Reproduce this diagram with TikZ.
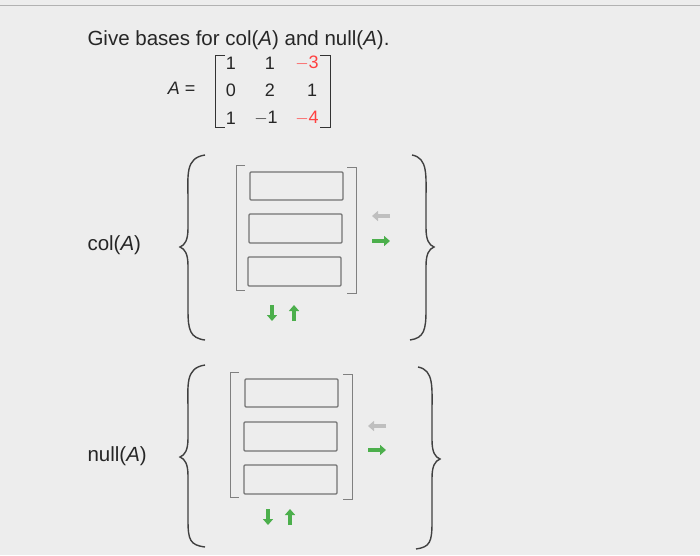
\documentclass[tikz,border=0pt]{standalone}
\usepackage{fontspec}
\setmainfont{Liberation Sans}
\usetikzlibrary{arrows.meta}
\begin{document}
\begin{tikzpicture}[x=1pt,y=-1pt,
  box/.style={draw=black!55,line width=1.2pt,rounded corners=1pt},
  brk/.style={draw=black!50,line width=1pt},
  brace/.style={draw=black!75,line width=1.4pt},
  garrow/.style={-{Triangle[length=6pt,width=10pt]},line width=4.5pt,draw=green!55!black!70},
  grarrow/.style={-{Triangle[length=6pt,width=10pt]},line width=4.5pt,draw=black!25},
  txt/.style={font=\fontsize{20.5}{24}\selectfont,text=black!85},
  mtx/.style={font=\fontsize{18}{21}\selectfont,text=black!85}]
\fill[black!7] (0,0) rectangle (700,555);
\useasboundingbox (0,0) rectangle (700,555);
\draw[black!30,line width=1pt] (0,5) -- (700,5);
\node[txt,anchor=west] (title) at (84,40) {Give bases for col(\textit{A}) and null(\textit{A}).};
% matrix
\node[mtx,anchor=east] (aeq) at (199,88) {\textit{A} =};
\draw[brk,black!80] (225,55) -- (215,55) -- (215,127) -- (225,127);
\draw[brk,black!80] (320,55) -- (330,55) -- (330,127) -- (320,127);
\node[mtx] (m11) at (231,63) {1};
\node[mtx] (m12) at (270,63) {1};
\node[mtx,text=red!75] (m13) at (307,63) {$-$3};
\node[mtx] (m21) at (231,90) {0};
\node[mtx] (m22) at (270,90) {2};
\node[mtx] (m23) at (312,90) {1};
\node[mtx] (m31) at (231,118) {1};
\node[mtx] (m32) at (266,118) {$-$1};
\node[mtx,text=red!75] (m33) at (307,118) {$-$4};
% col(A)
\node[txt,anchor=west] (col) at (84,245) {col(\textit{A})};
\draw[brace] (205,155) .. controls (185,158) and (188,175) .. (188,200) -- (188,228) .. controls (188,240) and (185,245) .. (180,247)
  .. controls (185,249) and (188,254) .. (188,266) -- (188,310) .. controls (188,330) and (190,338) .. (205,340);
\draw[brace] (412,155) .. controls (428,158) and (426,175) .. (426,200) -- (426,228) .. controls (426,240) and (429,245) .. (434,247)
  .. controls (429,249) and (426,254) .. (426,266) -- (426,310) .. controls (426,330) and (424,338) .. (410,340);
\draw[brk] (245,165) -- (236,165) -- (236,290) -- (245,290);
\draw[brk] (347,167) -- (356,167) -- (356,293) -- (347,293);
\draw[box] (250,172) rectangle (343,200);
\draw[box] (249,214) rectangle (342,243);
\draw[box] (248,257) rectangle (341,286);
\draw[grarrow] (390,216) -- (372,216);
\draw[garrow] (372,241) -- (390,241);
\draw[garrow] (272,305) -- (272,321);
\draw[garrow] (294,321) -- (294,305);
% null(A)
\node[txt,anchor=west] (nul) at (84,456) {null(\textit{A})};
\draw[brace] (205,365) .. controls (185,368) and (188,385) .. (188,410) -- (188,438) .. controls (188,450) and (185,455) .. (180,457)
  .. controls (185,459) and (188,464) .. (188,476) -- (188,520) .. controls (188,540) and (190,545) .. (205,547);
\draw[brace] (418,367) .. controls (434,370) and (432,387) .. (432,412) -- (432,440) .. controls (432,452) and (435,457) .. (440,459)
  .. controls (435,461) and (432,466) .. (432,478) -- (432,522) .. controls (432,542) and (430,547) .. (416,549);
\draw[brk] (239,372) -- (230,372) -- (230,497) -- (239,497);
\draw[brk] (343,374) -- (352,374) -- (352,499) -- (343,499);
\draw[box] (245,379) rectangle (338,407);
\draw[box] (244,422) rectangle (337,451);
\draw[box] (244,465) rectangle (337,494);
\draw[grarrow] (386,426) -- (368,426);
\draw[garrow] (368,450) -- (386,450);
\draw[garrow] (268,509) -- (268,525);
\draw[garrow] (290,525) -- (290,509);
\end{tikzpicture}
\end{document}
